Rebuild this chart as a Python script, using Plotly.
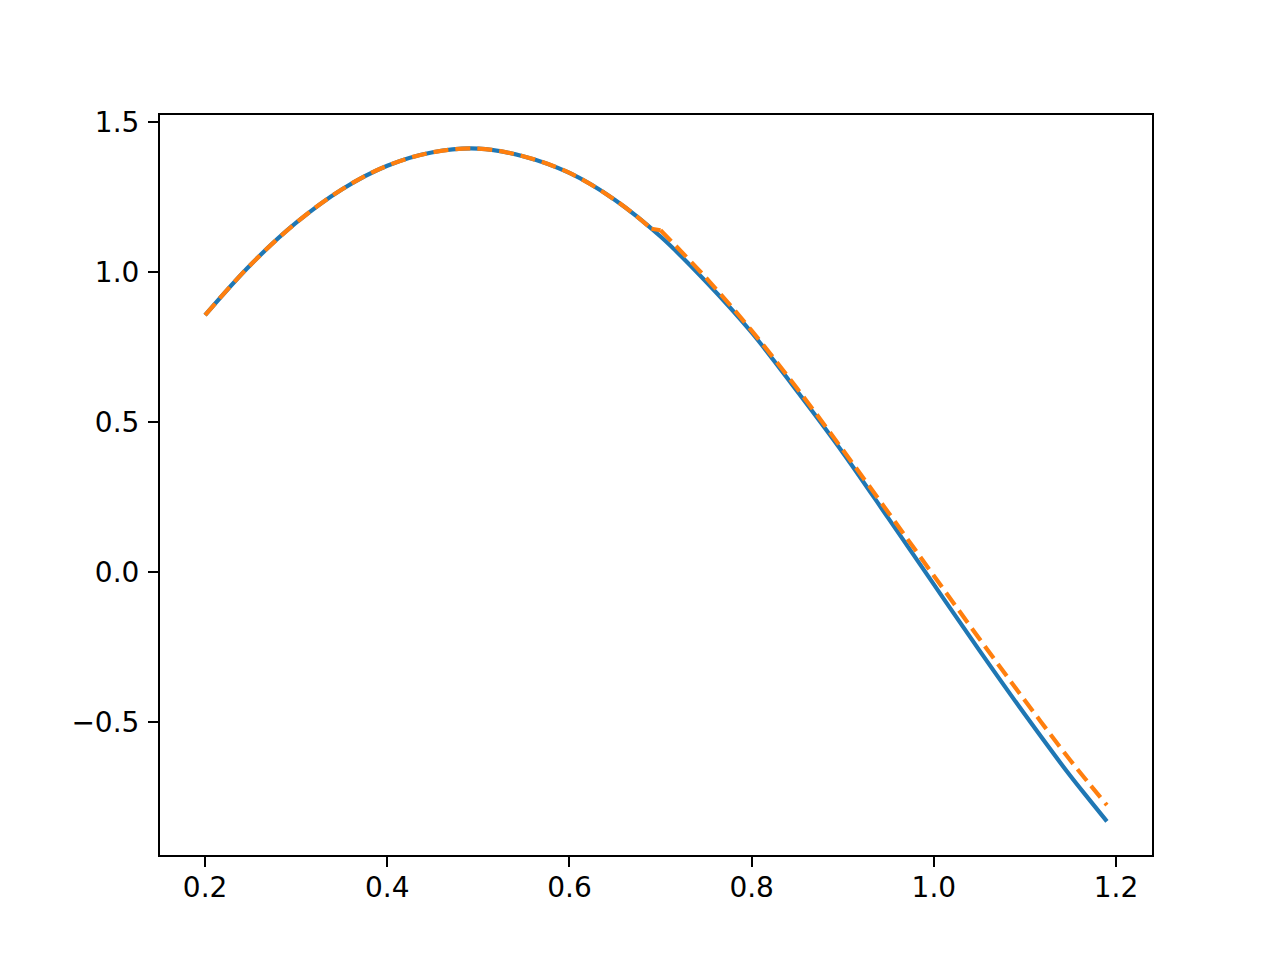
import plotly.graph_objects as go

# values
x_exact = [0.20, 0.25, 0.30, 0.35, 0.40, 0.45, 0.50, 0.55, 0.60, 0.65, 0.70,
           0.75, 0.80, 0.85, 0.90, 0.95, 1.00, 1.05, 1.10, 1.15, 1.17, 1.19]
y_exact = [0.857, 1.025, 1.165, 1.276, 1.355, 1.400, 1.412, 1.386, 1.331, 1.241, 1.119,
           0.968, 0.799, 0.603, 0.399, 0.180, -0.041, -0.261, -0.475, -0.680, -0.756, -0.831]

# the approximation follows the exact curve up to 0.69, then breaks off
x_approx_a = [0.20, 0.25, 0.30, 0.35, 0.40, 0.45, 0.50, 0.55, 0.60, 0.65, 0.69]
y_approx_a = [0.857, 1.025, 1.165, 1.276, 1.355, 1.400, 1.412, 1.386, 1.331, 1.241, 1.145]
x_approx_b = [0.70, 0.75, 0.80, 0.85, 0.90, 0.95, 1.00, 1.05, 1.10, 1.15, 1.17, 1.19]
y_approx_b = [1.140, 0.981, 0.805, 0.612, 0.408, 0.199, -0.012, -0.222, -0.428, -0.628, -0.703, -0.777]

x_ticks = [0.2, 0.4, 0.6, 0.8, 1.0, 1.2]
y_ticks = [-0.5, 0.0, 0.5, 1.0, 1.5]

ORANGE = '#ff7f0e'
BLUE = '#1f77b4'
DASH = '15px,7px'


def padded(lo, hi, frac=0.05):
    """matplotlib style auto margins"""
    span = hi - lo
    return [lo - frac * span, hi + frac * span]


all_x = x_exact + x_approx_a + x_approx_b
all_y = y_exact + y_approx_a + y_approx_b
x_range = padded(min(all_x), max(all_x))
y_range = padded(min(all_y), max(all_y))

fig = go.Figure()
fig.add_trace(go.Scatter(x=x_exact, y=y_exact, mode='lines',
                         line=dict(color=BLUE, width=4.2, shape='spline')))
fig.add_trace(go.Scatter(x=x_approx_a, y=y_approx_a, mode='lines',
                         line=dict(color=ORANGE, width=4.2, shape='spline', dash=DASH)))
# short joint between the two pieces
fig.add_trace(go.Scatter(x=[x_approx_a[-1], x_approx_b[0]], y=[y_approx_a[-1], y_approx_b[0]],
                         mode='lines', line=dict(color=ORANGE, width=4.2)))
fig.add_trace(go.Scatter(x=x_approx_b, y=y_approx_b, mode='lines',
                         line=dict(color=ORANGE, width=4.2, shape='spline', dash=DASH)))

axis_style = dict(showgrid=False, zeroline=False, showline=True, mirror=True,
                  linecolor='black', linewidth=2, ticks='outside', ticklen=10,
                  tickwidth=2, tickcolor='black', tickformat='.1f',
                  tickfont=dict(family='DejaVu Sans', size=28, color='black'))

fig.update_xaxes(range=x_range, tickvals=x_ticks, ticklabelstandoff=-4, **axis_style)
fig.update_yaxes(range=y_range, tickvals=y_ticks, ticklabelstandoff=3, **axis_style)
fig.update_layout(width=1264, height=944, showlegend=False,
                  plot_bgcolor='white', paper_bgcolor='white',
                  margin=dict(l=152, r=120, t=107, b=97))

fig.write_html("out.html")
